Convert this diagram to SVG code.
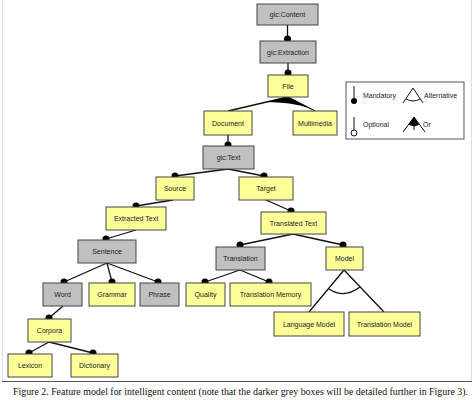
<svg xmlns="http://www.w3.org/2000/svg" width="474" height="400" viewBox="0 0 474 400">
<style>
.b{stroke:#444;stroke-width:1}
.y{fill:#FFFF99}
.g{fill:#C0C0C0}
.t{font-family:"Liberation Sans",Arial,sans-serif;font-size:7px;fill:#222;text-anchor:middle}
.lt{font-family:"Liberation Sans",Arial,sans-serif;font-size:7px;fill:#222}
.c{stroke:#111;stroke-width:1.3;fill:none}
.d{fill:#000}
.cap{font-family:"Liberation Serif","Times New Roman",serif;font-size:9.5px;fill:#111}
</style>
<rect width="474" height="400" fill="#fff"/>
<line x1="2.5" y1="0" x2="2.5" y2="381" stroke="#ddd" stroke-width="1"/>
<line x1="471.5" y1="0" x2="471.5" y2="381" stroke="#ddd" stroke-width="1"/>
<line x1="2" y1="381.5" x2="472" y2="381.5" stroke="#555" stroke-width="1"/>

<g id="connectors">
<path class="c" d="M287.5 25 L287.5 39"/><circle class="d" cx="287.5" cy="39" r="3.5"/>
<path class="c" d="M288 63 L288 73"/><circle class="d" cx="288" cy="73" r="3.5"/>
<path class="c" d="M288 97 L228 111 M288 97 L315 111"/>
<path class="d" d="M288 97 L266 102.1 Q289 102 311 108.4 Z"/>
<path class="c" d="M228 135 L228 145"/><circle class="d" cx="228" cy="145" r="3.5"/>
<path class="c" d="M228 169 L175 176 M228 169 L264 176"/><circle class="d" cx="175" cy="176" r="3.5"/><circle class="d" cx="264" cy="176" r="3.5"/>
<path class="c" d="M173 200 L136 206"/><circle class="d" cx="136" cy="206" r="3.5"/>
<path class="c" d="M266 200 L291 211"/><circle class="d" cx="291" cy="211" r="3.5"/>
<path class="c" d="M136 230 L106 239"/><circle class="d" cx="106" cy="239" r="3.5"/>
<path class="c" d="M107 263 L64 282 M107 263 L112 282 M107 263 L158 282"/><circle class="d" cx="64" cy="282" r="3.5"/><circle class="d" cx="112" cy="282" r="3.5"/><circle class="d" cx="158" cy="282" r="3.5"/>
<path class="c" d="M63 306 L49 318"/><circle class="d" cx="49" cy="318" r="3.5"/>
<path class="c" d="M49 342 L29 353 M49 342 L93 353"/><circle class="d" cx="29" cy="353" r="3.5"/><circle class="d" cx="93" cy="353" r="3.5"/>
<path class="c" d="M293 234 L240 245 M293 234 L343 245"/><circle class="d" cx="240" cy="245" r="3.5"/><circle class="d" cx="343" cy="245" r="3.5"/>
<path class="c" d="M240 270 L205 282 M240 270 L269 282"/><circle class="d" cx="205" cy="282" r="3.5"/><circle class="d" cx="269" cy="282" r="3.5"/>
<path class="c" d="M344 270 L309 312 M344 270 L384 312"/>
<path class="c" d="M329 289 Q344 299 360 287"/>
</g>

<g id="gicContent"><rect class="b g" x="257" y="4" width="61" height="21"/><text class="t" x="287.5" y="17">gic:Content</text></g>
<g id="gicExtraction"><rect class="b g" x="260" y="41" width="56" height="22"/><text class="t" x="288" y="54.5">gic:Extraction</text></g>
<g id="File"><rect class="b y" x="268" y="75" width="40" height="22"/><text class="t" x="288" y="88.5">File</text></g>
<g id="Document"><rect class="b y" x="204" y="111" width="48" height="24"/><text class="t" x="228" y="125.5">Document</text></g>
<g id="Multimedia"><rect class="b y" x="293" y="111" width="44" height="24"/><text class="t" x="315" y="125.5">Multimedia</text></g>
<g id="gicText"><rect class="b g" x="203" y="146" width="51" height="23"/><text class="t" x="228.5" y="160">gic:Text</text></g>
<g id="Source"><rect class="b y" x="156" y="177" width="38" height="23"/><text class="t" x="175" y="191">Source</text></g>
<g id="Target"><rect class="b y" x="239" y="177" width="54" height="23"/><text class="t" x="266" y="191">Target</text></g>
<g id="ExtractedText"><rect class="b y" x="106" y="207" width="60" height="23"/><text class="t" x="136" y="221">Extracted Text</text></g>
<g id="TranslatedText"><rect class="b y" x="261" y="212" width="65" height="22"/><text class="t" x="293.5" y="225.5">Translated Text</text></g>
<g id="Sentence"><rect class="b g" x="78" y="240" width="58" height="23"/><text class="t" x="107" y="254">Sentence</text></g>
<g id="Word"><rect class="b g" x="43" y="283" width="39" height="23"/><text class="t" x="62.5" y="297">Word</text></g>
<g id="Grammar"><rect class="b y" x="89" y="283" width="46" height="23"/><text class="t" x="112" y="297">Grammar</text></g>
<g id="Phrase"><rect class="b g" x="140" y="283" width="39" height="23"/><text class="t" x="159.5" y="297">Phrase</text></g>
<g id="Corpora"><rect class="b y" x="28" y="319" width="43" height="23"/><text class="t" x="49.5" y="333">Corpora</text></g>
<g id="Lexicon"><rect class="b y" x="8" y="354" width="44" height="23"/><text class="t" x="30" y="368">Lexicon</text></g>
<g id="Dictionary"><rect class="b y" x="71" y="354" width="47" height="23"/><text class="t" x="94.5" y="368">Dictionary</text></g>
<g id="Translation"><rect class="b g" x="216" y="247" width="49" height="23"/><text class="t" x="240.5" y="261">Translation</text></g>
<g id="Model"><rect class="b y" x="326" y="247" width="37" height="23"/><text class="t" x="344.5" y="261">Model</text></g>
<g id="Quality"><rect class="b y" x="186" y="283" width="39" height="23"/><text class="t" x="205.5" y="297">Quality</text></g>
<g id="TranslationMemory"><rect class="b y" x="230" y="283" width="81" height="23"/><text class="t" x="270.5" y="297">Translation Memory</text></g>
<g id="LanguageModel"><rect class="b y" x="274" y="312" width="70" height="24"/><text class="t" x="309" y="326.5">Language Model</text></g>
<g id="TranslationModel"><rect class="b y" x="349" y="312" width="71" height="24"/><text class="t" x="384.5" y="326.5">Translation Model</text></g>

<g id="legend">
<rect x="346" y="82" width="118" height="57" fill="#fff" stroke="#555" stroke-width="1"/>
<line x1="354" y1="86" x2="354" y2="101" stroke="#111" stroke-width="1"/><circle class="d" cx="354" cy="101" r="3"/>
<text class="lt" x="363" y="98">Mandatory</text>
<path d="M403 103 L413 88 L423 103 M406 99 Q413 103 420 99" stroke="#111" stroke-width="1" fill="none"/>
<text class="lt" x="424" y="98">Alternative</text>
<line x1="354" y1="117" x2="354" y2="130" stroke="#111" stroke-width="1"/><circle cx="354" cy="133" r="3" fill="#fff" stroke="#111" stroke-width="1"/>
<text class="lt" x="363" y="127">Optional</text>
<path d="M403 132 L414 117 L425 132 M414 117 L414 130" stroke="#111" stroke-width="1" fill="none"/>
<path d="M414 117 L408.5 124.5 Q414 128 419.5 124.5 Z" fill="#000"/>
<text class="lt" x="423" y="127">Or</text>
</g>

<text class="cap" x="13" y="395" textLength="455" lengthAdjust="spacingAndGlyphs">Figure 2. Feature model for intelligent content (note that the darker grey boxes will be detailed further in Figure 3).</text>
</svg>
